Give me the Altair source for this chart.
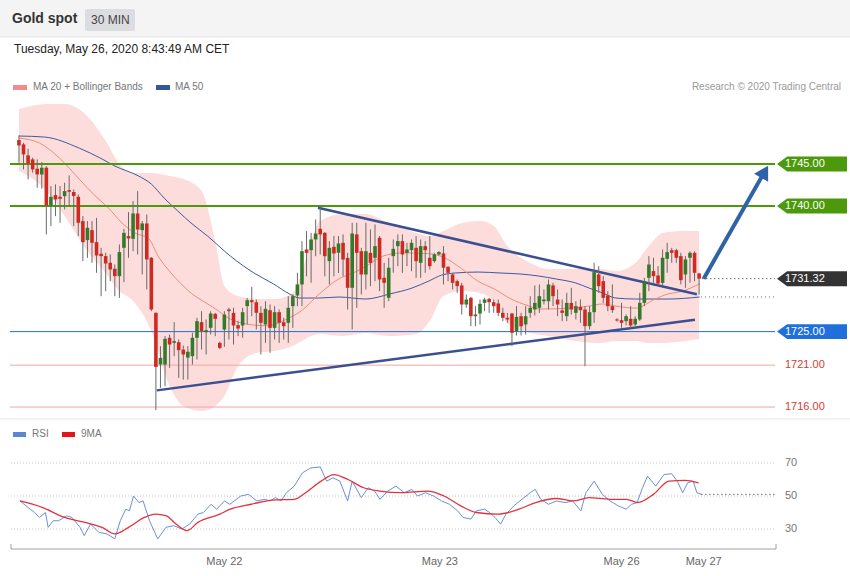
import altair as alt
import pandas as pd

# ---------------- data ----------------
open_ = [1747.86, 1747.34, 1746.03, 1745.55, 1744.44, 1743.76, 1744.56, 1740.06, 1741.29, 1741.09,
         1741.17, 1741.89, 1741.65, 1741.09, 1738.19, 1735.92, 1737.11, 1735.68, 1734.29, 1734.01,
         1733.21, 1732.50, 1731.62, 1735.00, 1736.40, 1736.08, 1739.10, 1737.11, 1737.91, 1733.81,
         1727.24, 1721.07, 1721.07, 1724.26, 1723.66, 1723.74, 1722.86, 1721.90, 1722.07, 1724.26,
         1726.13, 1724.93, 1725.45, 1727.12, 1723.66, 1725.25, 1727.64, 1727.24, 1725.77, 1725.73,
         1728.04, 1728.75, 1728.51, 1727.24, 1725.85, 1727.56, 1725.45, 1727.32, 1726.13, 1726.05,
         1728.04, 1729.31, 1730.63, 1734.80, 1734.72, 1736.00, 1737.27, 1736.79, 1733.41, 1735.12,
         1734.41, 1735.60, 1733.80, 1730.23, 1736.60, 1734.60, 1731.82, 1734.40, 1733.81, 1736.20,
         1731.42, 1729.03, 1734.01, 1735.20, 1735.80, 1734.40, 1734.72, 1735.00, 1733.21, 1735.20,
         1733.81, 1733.41, 1734.21, 1734.33, 1732.73, 1731.82, 1731.02, 1730.51, 1728.24, 1729.03,
         1726.84, 1727.16, 1728.43, 1728.91, 1728.51, 1728.36, 1727.24, 1726.65, 1727.16, 1725.05,
         1726.84, 1725.85, 1727.24, 1727.64, 1727.84, 1728.63, 1728.63, 1730.51, 1728.83, 1727.52,
         1726.84, 1728.43, 1727.24, 1727.96, 1727.64, 1725.65, 1727.32, 1731.82, 1731.02, 1729.31,
         1728.04, 1726.45, 1726.37, 1726.25, 1726.53, 1725.85, 1726.45, 1728.43, 1731.42, 1732.22,
         1731.70, 1730.82, 1733.69, 1734.72, 1734.72, 1734.01, 1731.82, 1733.81, 1734.40, 1731.94]
high = [1748.42, 1747.54, 1746.82, 1745.75, 1745.55, 1745.23, 1744.75, 1742.37, 1742.57, 1742.37,
        1742.77, 1743.64, 1741.97, 1741.37, 1738.78, 1738.19, 1738.19, 1738.58, 1735.00, 1734.41,
        1734.21, 1733.01, 1735.40, 1737.27, 1739.26, 1740.57, 1741.77, 1738.19, 1738.98, 1733.90,
        1727.30, 1723.26, 1724.46, 1724.65, 1726.13, 1724.06, 1723.34, 1723.26, 1724.86, 1726.65,
        1727.44, 1726.45, 1727.44, 1727.24, 1723.80, 1727.44, 1727.84, 1727.84, 1726.25, 1727.84,
        1729.03, 1730.35, 1728.83, 1728.04, 1728.63, 1728.24, 1728.04, 1727.64, 1726.65, 1729.23,
        1729.43, 1732.02, 1735.80, 1737.00, 1736.79, 1738.39, 1739.78, 1736.87, 1735.80, 1736.40,
        1736.40, 1736.60, 1734.40, 1737.99, 1737.99, 1735.00, 1737.99, 1737.20, 1737.79, 1736.40,
        1733.21, 1733.81, 1736.00, 1736.60, 1736.60, 1735.60, 1736.00, 1736.40, 1736.00, 1735.80,
        1736.40, 1734.40, 1734.60, 1735.20, 1732.81, 1732.02, 1731.22, 1730.82, 1729.43, 1729.15,
        1728.04, 1728.83, 1729.03, 1729.03, 1728.83, 1728.83, 1727.84, 1727.24, 1727.24, 1728.04,
        1727.24, 1728.04, 1729.23, 1730.51, 1730.63, 1730.03, 1731.22, 1730.82, 1730.03, 1728.83,
        1729.63, 1730.23, 1728.63, 1728.83, 1728.04, 1728.04, 1733.21, 1732.81, 1731.62, 1729.83,
        1730.63, 1726.60, 1728.43, 1727.04, 1728.04, 1726.84, 1729.63, 1731.42, 1734.01, 1733.81,
        1732.81, 1734.80, 1735.60, 1735.00, 1734.88, 1734.40, 1734.01, 1734.60, 1734.60, 1732.02]
low = [1745.15, 1744.36, 1743.16, 1743.96, 1742.17, 1742.05, 1736.60, 1737.59, 1738.78, 1737.99,
       1739.58, 1739.98, 1737.59, 1736.40, 1733.41, 1733.81, 1733.21, 1732.02, 1729.23, 1729.83,
       1731.02, 1729.23, 1729.03, 1730.90, 1733.81, 1734.60, 1734.21, 1731.82, 1730.03, 1727.44,
       1715.62, 1718.29, 1718.49, 1720.67, 1722.07, 1719.48, 1719.28, 1719.28, 1721.07, 1721.67,
       1722.86, 1722.27, 1724.65, 1724.46, 1722.90, 1723.18, 1724.06, 1723.46, 1724.46, 1724.26,
       1725.85, 1726.84, 1725.25, 1722.27, 1723.66, 1722.47, 1724.06, 1723.66, 1724.06, 1723.66,
       1725.45, 1728.04, 1728.04, 1731.60, 1730.83, 1734.00, 1734.20, 1731.60, 1730.63, 1731.60,
       1732.00, 1731.60, 1727.64, 1725.25, 1727.84, 1729.43, 1730.03, 1730.43, 1731.02, 1729.83,
       1727.84, 1728.63, 1732.02, 1732.81, 1732.02, 1732.81, 1732.22, 1731.42, 1731.42, 1732.02,
       1732.42, 1733.21, 1734.10, 1730.63, 1731.02, 1730.03, 1729.63, 1727.04, 1727.84, 1725.65,
       1725.65, 1725.85, 1727.44, 1727.24, 1727.24, 1726.84, 1726.25, 1726.05, 1723.26, 1724.54,
       1724.54, 1724.65, 1726.65, 1726.92, 1727.24, 1728.24, 1727.64, 1728.04, 1726.84, 1726.25,
       1726.25, 1727.04, 1726.45, 1726.05, 1720.87, 1725.25, 1726.05, 1729.63, 1728.43, 1727.44,
       1727.24, 1726.20, 1725.45, 1725.73, 1725.45, 1725.65, 1726.25, 1728.04, 1729.83, 1730.82,
       1730.51, 1730.43, 1732.02, 1733.21, 1733.21, 1730.63, 1730.23, 1730.83, 1731.02, 1729.43]
close = [1747.22, 1746.15, 1745.07, 1744.36, 1743.76, 1744.56, 1740.06, 1741.09, 1740.77, 1740.85,
         1741.77, 1741.69, 1741.17, 1737.99, 1735.68, 1737.39, 1735.60, 1734.09, 1734.01, 1733.13,
         1732.42, 1731.62, 1734.49, 1736.79, 1736.12, 1739.10, 1737.19, 1737.91, 1733.61, 1727.64,
         1720.79, 1721.87, 1724.14, 1723.46, 1723.86, 1722.78, 1722.27, 1722.60, 1724.26, 1726.25,
         1725.05, 1725.17, 1727.16, 1726.52, 1723.06, 1727.04, 1727.44, 1725.73, 1725.37, 1727.32,
         1728.75, 1728.51, 1727.24, 1726.05, 1727.72, 1725.45, 1727.32, 1726.05, 1725.65, 1727.84,
         1729.23, 1730.63, 1734.60, 1734.40, 1736.00, 1736.71, 1736.60, 1734.00, 1735.00, 1734.33,
         1735.52, 1733.61, 1730.23, 1736.71, 1734.40, 1731.82, 1734.60, 1733.21, 1735.20, 1731.22,
         1730.82, 1732.62, 1734.88, 1735.80, 1734.21, 1734.80, 1735.60, 1733.41, 1735.20, 1734.72,
         1732.81, 1734.21, 1734.49, 1732.62, 1732.02, 1730.82, 1730.43, 1728.24, 1728.83, 1726.84,
         1727.04, 1728.32, 1728.83, 1728.51, 1728.04, 1727.24, 1726.65, 1726.45, 1724.86, 1726.76,
         1725.65, 1726.84, 1727.84, 1728.43, 1729.23, 1728.83, 1730.63, 1729.23, 1728.24, 1727.24,
         1728.43, 1727.64, 1728.04, 1727.56, 1725.65, 1727.32, 1732.10, 1730.43, 1729.03, 1728.04,
         1727.56, 1726.33, 1726.05, 1726.84, 1725.73, 1726.53, 1728.43, 1731.02, 1733.01, 1731.62,
         1730.74, 1733.81, 1734.49, 1734.40, 1733.81, 1731.14, 1733.61, 1734.40, 1732.02, 1731.32]

ma20_t = [0, 4.5, 8.9, 13.2, 16.7, 19.7, 22.5, 25.3, 28.4, 30.5, 33.3, 36.1, 37.7, 40.3, 43.1,
          46.3, 50, 54.3, 58.7, 61.9, 65.8, 70.1, 73.2, 76, 79.7, 84, 89.8, 93.3, 97, 100.6,
          104.1, 107.8, 111.5, 114.3, 120.6, 124.9, 127.9, 130.7, 135.1, 139.4, 142.2, 145.2, 149.1]
ma20_v = [1748.1, 1747.5, 1745.7, 1743.2, 1741.2, 1739.7, 1738.0, 1736.8, 1736.1, 1734.0, 1732.0,
          1730.4, 1729.6, 1728.65, 1727.7, 1726.5, 1725.9, 1725.7, 1726.5, 1727.5, 1729.5, 1731.3,
          1732.0, 1732.8, 1734.0, 1734.4, 1734.3, 1733.8, 1732.5, 1731.0, 1730.1, 1728.9, 1728.1,
          1727.7, 1727.8, 1728.05, 1728.3, 1728.05, 1727.8, 1728.9, 1729.5, 1729.8, 1730.7]

ma50_t = [0, 5.6, 13.2, 18.2, 21, 26.2, 29, 31.8, 34.8, 37.7, 41.3, 46.3, 51.5, 55.8, 59.3, 61.5,
          65.8, 70.1, 76, 81.2, 86.1, 89.8, 92.6, 95.5, 100.6, 105.6, 110, 113.9, 117.7, 122, 124.9,
          127.9, 130.7, 135.1, 142.2, 149.1]
ma50_v = [1748.34, 1748.22, 1746.9, 1745.6, 1744.76, 1743.57, 1742.61, 1740.94, 1739.39, 1737.96,
          1736.41, 1734.02, 1731.99, 1730.68, 1729.49, 1729.01, 1729.01, 1729.13, 1728.89, 1729.49,
          1730.2, 1731.04, 1731.75, 1731.99, 1732.11, 1731.99, 1731.87, 1731.63, 1731.28, 1730.8,
          1730.2, 1729.61, 1729.01, 1728.89, 1728.89, 1729.13]

bb_t = [0, 6, 10, 15, 19, 22, 25, 29, 33, 36, 40, 43, 45, 48, 52, 56, 60, 62, 64, 66, 71, 76, 81,
        87, 90, 93, 97, 101, 104, 107, 112, 116, 122, 127, 131, 135, 138, 141, 146, 149]
bb_up = [1751.56, 1752.16, 1752.16, 1750.7, 1747.74, 1745.0, 1743.93, 1743.93, 1743.57, 1743.21,
         1741.78, 1735.81, 1730.44, 1729.25, 1728.89, 1728.89, 1729.61, 1732.23, 1735.81, 1738.2,
         1739.03, 1739.03, 1737.96, 1736.77, 1736.41, 1737.0, 1737.96, 1738.2, 1737.6, 1735.21,
         1733.19, 1732.47, 1732.47, 1732.47, 1732.23, 1733.19, 1735.21, 1736.77, 1737.0, 1737.0]
bb_lo = [1744.16, 1741.8, 1738.79, 1734.62, 1731.99, 1729.84, 1728.65, 1725.07, 1718.51, 1716.12,
         1715.52, 1716.12, 1717.32, 1720.9, 1722.45, 1722.69, 1723.28, 1723.88, 1724.47, 1724.71,
         1724.47, 1724.83, 1724.47, 1724.71, 1726.27, 1729.25, 1729.84, 1729.61, 1728.65, 1726.03,
         1724.83, 1724.47, 1723.88, 1723.64, 1723.88, 1723.88, 1723.64, 1723.64, 1723.88, 1724.12]

rsi_t = [0.2, 3.4, 4.5, 5.8, 6.4, 7.5, 8.7, 10.4, 11.6, 13.4, 14.3, 15.7, 17.5, 19.3, 21.0, 22.2,
         23.4, 24.2, 25.1, 26.3, 27.2, 28.6, 30.4, 32.2, 33.9, 35.7, 37.4, 39.2, 40.4, 42.1, 43.3,
         45.0, 46.2, 48.6, 50.3, 52.1, 53.9, 55.0, 56.2, 57.4, 58.6, 60.3, 62.1, 63.9, 66.0, 67.4,
         68.8, 70.3, 72.0, 73.0, 75.0, 76.5, 77.9, 79.1, 80.8, 82.6, 84.4, 86.1, 87.3, 89.1, 90.8,
         92.6, 94.3, 96.1, 97.3, 99.0, 100.2, 102.0, 103.1, 104.3, 105.5, 106.7, 108.4, 110.2, 112.0,
         113.1, 114.3, 116.0, 117.8, 119.6, 121.3, 123.1, 124.2, 126.0, 127.8, 129.5, 131.3, 133.0,
         134.2, 135.4, 136.6, 137.7, 139.5, 141.3, 143.0, 144.2, 145.4, 146.5, 147.7, 148.5, 149.5]
rsi_v = [47, 40, 37, 40, 31, 35, 35, 38, 37, 31, 26, 33, 28, 27, 24, 35, 42, 41, 50, 46,
         47, 35, 24, 31, 32, 30, 33, 39, 40, 45, 42, 47, 45, 50, 51, 47, 48, 47, 49, 47,
         52, 56, 64, 67, 67.6, 59, 61, 59, 47, 59, 49, 55, 53, 48, 53, 56, 52, 54, 50, 52,
         50, 47, 45, 41, 37, 36, 41, 42, 40, 37, 33, 39, 44, 48, 52, 54, 48, 45, 47, 46,
         47, 41, 52, 59, 51, 47, 44, 42, 45, 46, 55, 62, 56, 63, 63.5, 59, 52, 58, 59, 52, 51]

rma_t = [0.2, 5.2, 10.0, 14.5, 18.2, 21.0, 24.0, 27.5, 29.9, 32.3, 34.4, 36.8, 39.2, 44.0, 46.3,
         50.9, 55.6, 60.4, 62.8, 66.2, 69.0, 72.1, 75.5, 79.0, 83.8, 89.6, 93.1, 96.8, 100.2, 105.0,
         109.5, 113.2, 117.7, 121.4, 124.9, 129.4, 133.1, 135.5, 139.0, 142.4, 145.9, 148.9]
rma_v = [47, 43, 37, 34, 31, 27, 31, 37, 39, 38, 33, 29, 34, 39, 42, 45, 47.5, 48, 52, 59,
         63, 60, 55, 53, 52, 53, 50, 44, 40, 39, 42, 46, 48.5, 47, 49, 48, 48, 46, 51, 59, 59.5, 58]

resistance_levels = [1745.0, 1740.0]
support_levels = [1725.0]
minor_levels = [1721.0, 1716.0]
last_price = 1731.32

upper_trend_t = [65.5, 148.5]
upper_trend_p = [1739.79, 1729.45]
lower_trend_t = [30.2, 148.1]
lower_trend_p = [1717.99, 1726.42]
arrow_t = [150.0, 163.35]
arrow_p = [1731.32, 1744.08]

rsi_levels = [70, 50, 30]
date_ticks = [45.0, 92.2, 132.0, 150.0]
date_labels = ["May 22", "May 23", "May 26", "May 27"]

# ---------------- styling / scales ----------------
FONT = "Liberation Sans"
GREEN = "#347a2a"
RED = "#cf2a22"
LVL_GREEN = "#4c9a0c"
LVL_BLUE = "#1f6fdc"
LVL_PINK = "#f4a4a4"
TREND = "#3b4f91"

XS = alt.Scale(domain=[-0.866, 180.52], nice=False, zero=False)
PS = alt.Scale(domain=[1699.06, 1752.52], nice=False, zero=False)
RS = alt.Scale(domain=[17.88, 289.4], nice=False, zero=False)


def xq(f):
    return alt.X(f"{f}:Q", scale=XS, axis=None)


def yp(f):
    return alt.Y(f"{f}:Q", scale=PS, axis=None)


def yr(f):
    return alt.Y(f"{f}:Q", scale=RS, axis=None)


ONE = pd.DataFrame({"k": [0]})


def txt(s, x, y, size=10, color="#777", weight="normal", align="left"):
    return alt.Chart(ONE).mark_text(text=s, align=align, baseline="middle", font=FONT,
                                    fontSize=size, color=color, fontWeight=weight).encode(
        x=alt.value(x), y=alt.value(y))


def box(x0, x1, y0, y1, color):
    return alt.Chart(ONE).mark_rect(color=color).encode(
        x=alt.value(x0), x2=alt.value(x1), y=alt.value(y0), y2=alt.value(y1))


candles = pd.DataFrame({"i": list(range(len(close))), "open": open_, "high": high,
                        "low": low, "close": close})
candles["dir"] = ["up" if c >= o else "down" for o, c in zip(open_, close)]

bb = pd.DataFrame({"t": bb_t, "up": bb_up, "lo": bb_lo})
ma20 = pd.DataFrame({"t": ma20_t, "v": ma20_v})
ma50 = pd.DataFrame({"t": ma50_t, "v": ma50_v})
rsi = pd.DataFrame({"t": rsi_t, "v": rsi_v})
rma = pd.DataFrame({"t": rma_t, "v": rma_v})

layers = []

# header
layers += [
    box(-10, 840, -101, -64, "#f4f4f4"),
    alt.Chart(ONE).mark_rule(color="#e3e3e3").encode(x=alt.value(-10), x2=alt.value(840), y=alt.value(-64)),
    alt.Chart(ONE).mark_rect(color="#dcdde1", cornerRadius=2).encode(
        x=alt.value(75), x2=alt.value(125), y=alt.value(-92), y2=alt.value(-70)),
    txt("Gold spot", 2, -82, size=14, color="#333", weight="bold"),
    txt("30 MIN", 81, -81, size=12, color="#444"),
    txt("Tuesday, May 26, 2020 8:43:49 AM CET", 4, -52, size=12, color="#222"),
    box(3, 17, -16, -11, "#f28b8b"),
    txt("MA 20 + Bollinger Bands", 23, -14),
    box(146, 160, -16, -11, "#34579c"),
    txt("MA 50", 165, -14),
    txt("Research \u00a9 2020 Trading Central", 831, -14, color="#9a9a9a", align="right"),
]

# bollinger + moving averages
layers += [
    alt.Chart(bb).mark_area(color="#fddcdc", interpolate="monotone").encode(
        x=xq("t"), y=yp("up"), y2=alt.Y2("lo")),
    alt.Chart(ma50).mark_line(color="#3d5a9e", strokeWidth=1, interpolate="monotone").encode(
        x=xq("t"), y=yp("v")),
    alt.Chart(ma20).mark_line(color="#ee8c7c", strokeWidth=1, interpolate="monotone").encode(
        x=xq("t"), y=yp("v")),
]

# horizontal levels
layers += [
    alt.Chart(pd.DataFrame({"p": resistance_levels})).mark_rule(color=LVL_GREEN, strokeWidth=2).encode(
        y=yp("p"), x=alt.value(0), x2=alt.value(765)),
    alt.Chart(pd.DataFrame({"p": support_levels})).mark_rule(color=LVL_BLUE, strokeWidth=1).encode(
        y=yp("p"), x=alt.value(0), x2=alt.value(765)),
    alt.Chart(pd.DataFrame({"p": minor_levels})).mark_rule(color=LVL_PINK, strokeWidth=1).encode(
        y=yp("p"), x=alt.value(0), x2=alt.value(765)),
]

# trend lines
layers += [
    alt.Chart(pd.DataFrame({"t": upper_trend_t, "p": upper_trend_p})).mark_line(
        color=TREND, strokeWidth=2.5).encode(x=xq("t"), y=yp("p")),
    alt.Chart(pd.DataFrame({"t": lower_trend_t, "p": lower_trend_p})).mark_line(
        color=TREND, strokeWidth=2.5).encode(x=xq("t"), y=yp("p")),
]

# candles
layers += [
    alt.Chart(candles).mark_rule(color="#6a6a6a", strokeWidth=1).encode(
        x=xq("i"), y=yp("low"), y2=alt.Y2("high")),
    alt.Chart(candles).mark_bar(size=3.6).encode(
        x=xq("i"), y=yp("open"), y2=alt.Y2("close"),
        color=alt.Color("dir:N", scale=alt.Scale(domain=["up", "down"], range=[GREEN, RED]), legend=None)),
]

# dotted markers for last price and MA50
last_i = len(close) - 1
layers += [
    alt.Chart(pd.DataFrame({"t": [last_i + 0.7], "p": [last_price]})).mark_rule(
        color="#222", strokeDash=[1, 3], strokeWidth=1).encode(x=xq("t"), x2=alt.value(765), y=yp("p")),
    alt.Chart(pd.DataFrame({"t": [last_i + 0.4], "p": [ma50_v[-1]]})).mark_rule(
        color="#666", strokeDash=[1, 3], strokeWidth=1).encode(x=xq("t"), x2=alt.value(765), y=yp("p")),
]

# arrow
layers += [
    alt.Chart(pd.DataFrame({"t": arrow_t, "p": arrow_p})).mark_line(
        color="#2f63a7", strokeWidth=4).encode(x=xq("t"), y=yp("p")),
    alt.Chart(pd.DataFrame({"t": [arrow_t[-1]], "p": [arrow_p[-1]]})).mark_point(
        shape="triangle-up", size=260, filled=True, opacity=1, color="#2f63a7", angle=30).encode(
        x=xq("t"), y=yp("p")),
]

# right-side tags
TAG = "M-1,0L-0.71,-0.214L1,-0.214L1,0.214L-0.71,0.214Z"


def tag(levels, color):
    df = pd.DataFrame({"p": levels, "lab": [f"{v:.2f}" for v in levels]})
    return [
        alt.Chart(df).mark_point(shape=TAG, size=4900, filled=True, opacity=1, color=color,
                                 strokeWidth=0).encode(x=alt.value(802), y=yp("p")),
        alt.Chart(df).mark_text(align="left", baseline="middle", color="white", font=FONT,
                                fontSize=11).encode(x=alt.value(775), y=yp("p"), text="lab:N"),
    ]


layers += tag(resistance_levels, LVL_GREEN)
layers += tag([last_price], "#333333")
layers += tag(support_levels, LVL_BLUE)
mdf = pd.DataFrame({"p": minor_levels, "lab": [f"{v:.2f}" for v in minor_levels]})
layers += [alt.Chart(mdf).mark_text(align="left", baseline="middle", color="#d83a30", font=FONT,
                                    fontSize=11).encode(x=alt.value(775), y=yp("p"), text="lab:N")]

# divider between panels
layers += [alt.Chart(ONE).mark_rule(color="#e6e6e6").encode(
    x=alt.value(-10), x2=alt.value(840), y=alt.value(318))]

# RSI panel
rl = pd.DataFrame({"v": rsi_levels, "lab": [str(v) for v in rsi_levels]})
dl = pd.DataFrame({"t": date_ticks, "lab": date_labels})
layers += [
    box(3, 16, 331, 336, "#5b86d4"),
    txt("RSI", 22, 333, size=10, color="#777"),
    box(52, 65, 331, 336, "#e3151a"),
    txt("9MA", 71, 333, size=10, color="#777"),
    alt.Chart(rl).mark_rule(color="#c4c4c4", strokeDash=[1, 2]).encode(
        y=yr("v"), x=alt.value(1), x2=alt.value(766)),
    alt.Chart(rl).mark_text(align="left", baseline="middle", color="#777", font=FONT, fontSize=11).encode(
        x=alt.value(775), y=yr("v"), text="lab:N"),
    alt.Chart(rsi).mark_line(color="#6b8fd8", strokeWidth=1).encode(x=xq("t"), y=yr("v")),
    alt.Chart(rma).mark_line(color="#e2323a", strokeWidth=1.3, interpolate="monotone").encode(
        x=xq("t"), y=yr("v")),
    alt.Chart(pd.DataFrame({"t": [rsi_t[-1]], "v": [rsi_v[-1]]})).mark_rule(
        color="#222", strokeDash=[1, 3]).encode(x=xq("t"), x2=alt.value(766), y=yr("v")),
    alt.Chart(ONE).mark_rule(color="#a0a0a0").encode(x=alt.value(1), x2=alt.value(766), y=alt.value(448)),
    alt.Chart(ONE).mark_rule(color="#a0a0a0").encode(x=alt.value(1), y=alt.value(443), y2=alt.value(448)),
    alt.Chart(ONE).mark_rule(color="#a0a0a0").encode(x=alt.value(766), y=alt.value(443), y2=alt.value(448)),
    alt.Chart(dl).mark_text(align="center", baseline="middle", color="#666", font=FONT, fontSize=11).encode(
        x=xq("t"), y=alt.value(461), text="lab:N"),
]

chart = alt.layer(*layers).resolve_scale(y="independent").properties(
    width=838, height=448,
    padding={"left": 10, "top": 101, "right": 2, "bottom": 27},
    autosize=alt.AutoSizeParams(type="none"),
    background="white",
).configure_view(strokeWidth=0)

chart.save("out.html", embed_options={"renderer": "svg", "actions": False})
